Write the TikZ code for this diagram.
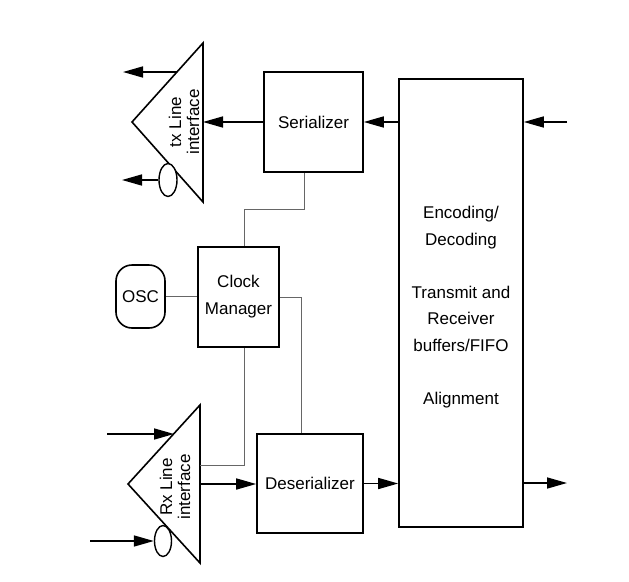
\documentclass[tikz,border=0pt]{standalone}
\usepackage{fontspec}
\setmainfont{Liberation Sans}
\usetikzlibrary{arrows.meta,shapes.geometric}
\begin{document}
\begin{tikzpicture}[x=1pt,y=-1pt,
 box/.style={draw,line width=1.6pt,inner sep=0pt,font=\fontsize{17}{27}\selectfont,align=center},
 tri/.style={draw,line width=1.6pt,line join=miter},
 arr/.style={line width=1.6pt,-{Triangle[length=20pt,width=11pt]}},
 clk/.style={draw=black!60,line width=1pt},
 oval/.style={draw,ellipse,fill=white,line width=1.4pt,inner sep=0pt}]
\useasboundingbox (0,0) rectangle (629,581);
% blocks
\node[box,minimum width=99pt,minimum height=100pt] (ser) at (313.5,122) {Serializer};
\node[box,minimum width=124pt,minimum height=448pt] (big) at (461,303) {};
\node[font=\fontsize{17}{26.5}\selectfont,align=center] (bigtxt) at (461,307)
 {Encoding/\\Decoding\\[26.5pt]Transmit and\\Receiver\\buffers/FIFO\\[26.5pt]Alignment};
\node[box,minimum width=81pt,minimum height=100pt] (cm) at (238.5,297) {Clock\\Manager};
\node[box,minimum width=106pt,minimum height=99pt] (des) at (310,483.5) {Deserializer};
\node[box,minimum width=49pt,minimum height=63pt,rounded corners=16pt] (osc) at (140.5,296.5) {OSC};
% tx line interface
\coordinate (txTop) at (203,43);
\coordinate (txBot) at (203,202);
\coordinate (txTip) at (132,122);
\draw[tri] (txTop) -- (txBot) -- (txTip) -- cycle;
\node[font=\fontsize{17}{18}\selectfont,align=center,rotate=90] (txtxt) at (184,122) {tx Line\\interface};
\node[oval,minimum width=18pt,minimum height=33pt] (txE) at (168,180) {};
\coordinate (txR) at (203,122);
\coordinate (txA) at (177,72);
\coordinate (txAo) at (123,72);
\coordinate (txEo) at (122,180);
% rx line interface
\coordinate (rxTop) at (200,405);
\coordinate (rxBot) at (200,563);
\coordinate (rxTip) at (128,484);
\draw[tri] (rxTop) -- (rxBot) -- (rxTip) -- cycle;
\node[font=\fontsize{17}{18}\selectfont,align=center,rotate=90] (rxtxt) at (175,487) {Rx Line\\interface};
\node[oval,minimum width=17pt,minimum height=31pt] (rxE) at (163,541) {};
\coordinate (rxR) at (200,484);
\coordinate (rxA) at (174,434);
\coordinate (rxAi) at (107,434);
\coordinate (rxEi) at (90,541);
\coordinate (rxClk) at (200,465);
% outer ports
\coordinate (inR) at (567,122);
\coordinate (outR) at (567,483);
% data arrows
\draw[arr] (inR) -- (inR -| big.east);
\draw[arr] (big.west |- ser.east) -- (ser.east);
\draw[arr] (ser.west) -- (txR);
\draw[arr] (txA) -- (txAo);
\draw[arr] (txE.west) -- (txEo);
\draw[arr] (rxAi) -- (rxA);
\draw[arr] (rxEi) -- (rxE.west);
\draw[arr] (rxR) -- (rxR -| des.west);
\draw[arr] (des.east) -- (des.east -| big.west);
\draw[arr] (outR -| big.east) -- (outR);
% clock lines
\draw[clk] ([xshift=-9.5pt]ser.south) |- (244,209) -- ([xshift=5.5pt]cm.north);
\draw[clk] (osc.east) -- (osc.east -| cm.west);
\draw[clk] (cm.east) -| ([xshift=-9pt]des.north);
\draw[clk] ([xshift=5.5pt]cm.south) |- (rxClk);
\end{tikzpicture}
\end{document}
